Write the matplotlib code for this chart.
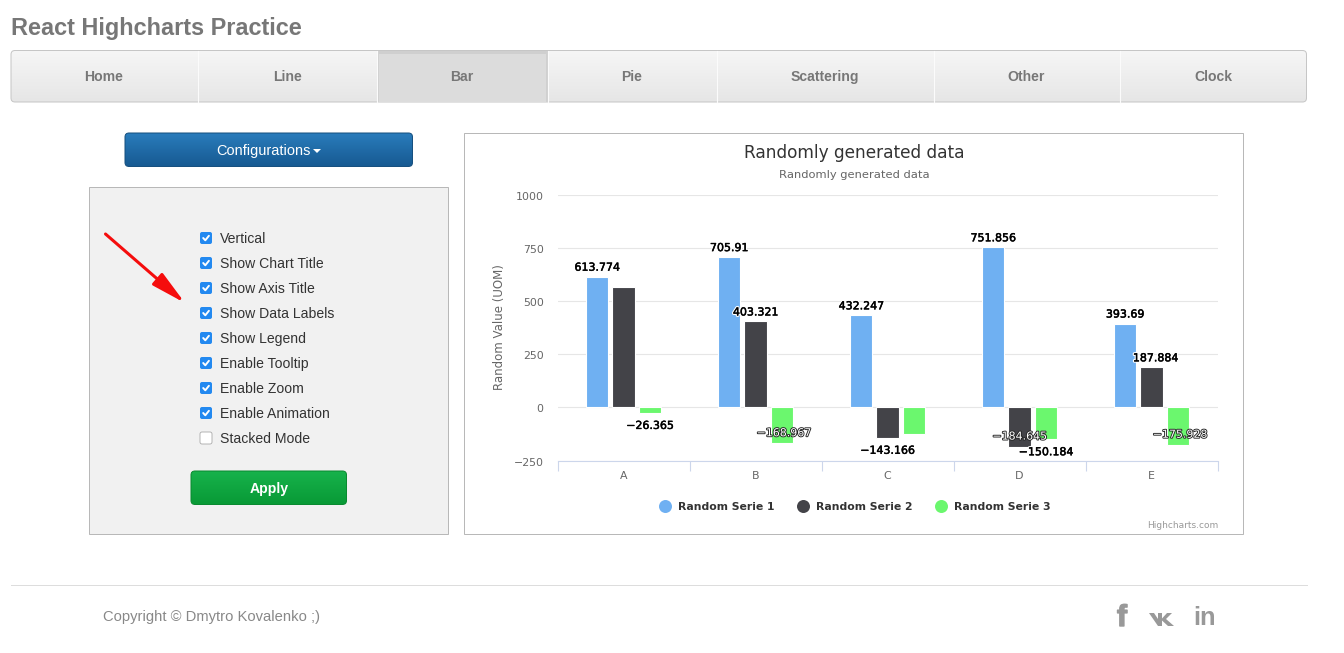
import matplotlib
matplotlib.use('Agg')
import matplotlib.pyplot as plt
import matplotlib.patches as patches
import matplotlib.patheffects as pe
from matplotlib.lines import Line2D
from matplotlib.transforms import ScaledTranslation
import numpy as np

W, H = 1344, 653
UI_FONT = 'Liberation Sans'
CHART_FONT = 'DejaVu Sans'

# chart data
categories = ['A', 'B', 'C', 'D', 'E']
serie_names = ['Random Serie 1', 'Random Serie 2', 'Random Serie 3']
serie1 = [613.774, 705.91, 432.247, 751.856, 393.69]
serie2 = [565, 403.321, -143.166, -184.645, 187.884]
serie3 = [-26.365, -168.967, -125, -150.184, -175.928]
y_ticks = [-250, 0, 250, 500, 750, 1000]

# page text
nav_labels = ['Home', 'Line', 'Bar', 'Pie', 'Scattering', 'Other', 'Clock']
option_labels = ['Vertical', 'Show Chart Title', 'Show Axis Title', 'Show Data Labels',
                 'Show Legend', 'Enable Tooltip', 'Enable Zoom', 'Enable Animation', 'Stacked Mode']
option_checked = [True, True, True, True, True, True, True, True, False]

colors = ['#6fb0f2', '#434348', '#6bf76e']


def px(size):
    return size * 0.72


fig = plt.figure(figsize=(W / 100, H / 100), dpi=100, facecolor='white')

# page chrome lives on one full-figure axes in pixel coordinates
bg = fig.add_axes([0, 0, 1, 1], zorder=0)
bg.set_xlim(0, W)
bg.set_ylim(H, 0)
bg.axis('off')


def gradient_box(x0, y0, x1, y1, top, bottom, edge, radius=4, lw=0.72, z=2):
    box = patches.FancyBboxPatch((x0 + radius, y0 + radius), x1 - x0 - 2 * radius, y1 - y0 - 2 * radius,
                                 boxstyle='round,pad=%d,rounding_size=%d' % (radius, radius),
                                 facecolor='none', edgecolor=edge, linewidth=lw, zorder=z + 0.1)
    bg.add_patch(box)
    c0 = np.array(matplotlib.colors.to_rgb(top))
    c1 = np.array(matplotlib.colors.to_rgb(bottom))
    t = np.linspace(0, 1, 64)[:, None, None]
    img = c0[None, None, :] * (1 - t) + c1[None, None, :] * t
    im = bg.imshow(img, extent=(x0, x1, y1, y0), aspect='auto', zorder=z, interpolation='bilinear')
    im.set_clip_path(box)


# header
bg.text(11, 28.5, 'React Highcharts Practice', family=UI_FONT, weight='bold', fontsize=px(23.5),
        color='#777777', va='center', ha='left')

# nav bar
nav_edges = [11, 198, 377, 548, 717, 934, 1120, 1307]
gradient_box(11, 50.5, 1306.5, 102, '#f6f6f6', '#e6e6e6', '#c6c6c6')
bg.add_patch(patches.Rectangle((376.5, 51), 171, 51, facecolor='#dcdcdc', edgecolor='none', zorder=3))
bg.add_patch(patches.Rectangle((376.5, 51), 171, 2.5, facecolor='#cfcfcf', edgecolor='none', zorder=3))
bg.add_patch(patches.Rectangle((376.5, 51), 2, 51, facecolor='#d0d0d0', edgecolor='none', zorder=3))
bg.add_patch(patches.Rectangle((545.5, 51), 2, 51, facecolor='#d0d0d0', edgecolor='none', zorder=3))
for i, name in enumerate(nav_labels):
    if i > 0:
        bg.plot([nav_edges[i] - 0.5] * 2, [51, 102], color='#fbfbfb', lw=0.8, zorder=4)
    bg.text((nav_edges[i] + nav_edges[i + 1]) / 2 - 0.5, 81, name, family=UI_FONT, weight='bold', fontsize=px(14),
            color='#777777', ha='center', va='baseline', zorder=5)

# configurations button
gradient_box(125, 133, 412.5, 166.5, '#2a7dbd', '#175a92', '#17507f')
bg.text(263, 151, 'Configurations', family=UI_FONT, fontsize=px(14.5), color='white',
        ha='center', va='center', zorder=5)
bg.add_patch(patches.Polygon([[313, 149], [321, 149], [317, 153]], facecolor='white', edgecolor='none', zorder=5))

# options panel
bg.add_patch(patches.Rectangle((89, 187), 359, 347, facecolor='#f1f1f1', edgecolor='#b8b8b8', lw=0.72, zorder=1))
for i, (name, on) in enumerate(zip(option_labels, option_checked)):
    cy = 238 + 25 * i
    bg.add_patch(patches.FancyBboxPatch((202, cy - 4), 8, 8, boxstyle='round,pad=2,rounding_size=2',
                                        facecolor='#2389f0' if on else 'white',
                                        edgecolor='none' if on else '#a8a8a8', lw=0.6, zorder=3))
    if on:
        bg.plot([203.2, 205.3, 208.9], [cy, cy + 2.3, cy - 2.2], color='white', lw=1.4, zorder=4,
                solid_capstyle='round')
    bg.text(220, cy + 1, name, family=UI_FONT, fontsize=px(14), color='#333333', ha='left', va='center', zorder=5)

# apply button
gradient_box(191, 471, 346.5, 504.5, '#17b34c', '#099a36', '#0a8a30')
bg.text(269, 489, 'Apply', family=UI_FONT, weight='bold', fontsize=px(14), color='white',
        ha='center', va='center', zorder=5)

# red arrow
bg.annotate('', xy=(185, 303), xytext=(105.5, 234), zorder=6,
            arrowprops=dict(arrowstyle='-|>,head_length=1.9,head_width=0.42', color='#f50d0d', lw=2.2,
                            shrinkA=0, shrinkB=0, mutation_scale=11))

# chart frame
bg.add_patch(patches.Rectangle((464, 133), 779, 401, facecolor='white', edgecolor='#b8b8b8', lw=0.72, zorder=1))
bg.text(854, 152.5, 'Randomly generated data', family=CHART_FONT, fontsize=px(17), color='#333333',
        ha='center', va='center', zorder=5)
bg.text(854, 174.5, 'Randomly generated data', family=CHART_FONT, fontsize=px(11.5), color='#666666',
        ha='center', va='center', zorder=5)
bg.text(1218, 525.5, 'Highcharts.com', family=CHART_FONT, fontsize=px(9), color='#999999',
        ha='right', va='center', zorder=5)

# footer
bg.plot([11, 1307], [585, 585], color='#dddddd', lw=0.72, zorder=1)
bg.text(103, 617, 'Copyright © Dmytro Kovalenko ;)', family=UI_FONT, fontsize=px(14.7), color='#888888',
        ha='left', va='center', zorder=5)
f_icon = bg.text(1122, 618, 'f', family=UI_FONT, weight='bold', fontsize=px(30), color='#999999',
                 ha='center', va='center')
f_icon.set_path_effects([pe.withStroke(linewidth=1, foreground='#999999')])
bg.add_patch(patches.Polygon([[1149, 613], [1154, 613], [1158, 619], [1158, 613], [1162, 613], [1162, 618.5],
                              [1167, 613], [1172, 613], [1166, 619], [1174, 626], [1168, 626], [1162, 620.5],
                              [1162, 626], [1158, 626]], facecolor='#999999', edgecolor='none', zorder=5))
bg.text(1205, 618, 'in', family=UI_FONT, weight='bold', fontsize=px(25.5), color='#999999', ha='center', va='center')

bg.set_xlim(0, W)
bg.set_ylim(H, 0)

# bar chart plot area, 558..1218 x 194.5..460.5 px
ax = fig.add_axes([557.5 / W, 1 - 460.5 / H, 660 / W, 266 / H], zorder=2)
ax.patch.set_alpha(0)
x = np.arange(len(categories))
width = 0.168
offsets = [-0.2, 0, 0.2]
all_series = [serie1, serie2, serie3]
for k, vals in enumerate(all_series):
    ax.bar(x + offsets[k], vals, width, color=colors[k], edgecolor='white', linewidth=0.8, zorder=3)

ax.set_xlim(-0.5, len(categories) - 0.5)
ax.set_ylim(-250, 1000)
ax.set_yticks(y_ticks)
ax.grid(axis='y', color='#e6e6e6', lw=0.8, zorder=0)
ax.set_axisbelow(True)
for s in ['top', 'left', 'right']:
    ax.spines[s].set_visible(False)
ax.spines['bottom'].set_color('#ccd6eb')
ax.tick_params(axis='y', length=0, pad=10, labelsize=px(11), labelcolor='#666666')
ax.set_xticks(x)
ax.set_xticklabels(categories)
ax.set_xticks(np.arange(len(categories) + 1) - 0.5, minor=True)
ax.tick_params(axis='x', which='major', length=0, pad=7.5, labelsize=px(11), labelcolor='#666666')
ax.tick_params(axis='x', which='minor', length=7.2, width=0.8, color='#ccd6eb')
for lab in ax.get_yticklabels():
    lab.set_transform(lab.get_transform() + ScaledTranslation(0, -1 / 100, fig.dpi_scale_trans))
ax.set_ylabel('Random Value (UOM)', fontsize=px(11.8), color='#666666', labelpad=0)
ax.yaxis.set_label_coords((507 - 558) / 660, (460.5 - 327) / 266)

# data labels; highcharts dropped the two that collided and pushed three back inside the plot
hidden = {(1, 0), (2, 2)}
pushed = {(2, 1), (1, 3), (2, 4)}
for k, vals in enumerate(all_series):
    for i, v in enumerate(vals):
        if (k, i) in hidden:
            continue
        txt = str(v).replace('-', '\u2212')
        dy = 9 if v > 0 else -13
        dx = 0
        if (k, i) in pushed:
            dy = 10
            dx = 2
        if (k, i) == (1, 3):
            dx = 0
        if k == 1 and i == 4:
            dx = 4
        t = ax.annotate(txt, (x[i] + offsets[k], v), xytext=(px(dx), px(dy)), textcoords='offset points',
                        ha='center', va='center', family=CHART_FONT, fontsize=px(11),
                        color='white' if (k, i) in pushed else 'black', zorder=6, annotation_clip=False)
        if (k, i) in pushed:
            t.set_path_effects([pe.withStroke(linewidth=1.3, foreground='#222222')])
        else:
            t.set_path_effects([pe.Stroke(linewidth=2, foreground='white'),
                                pe.Stroke(linewidth=0.35, foreground='black'), pe.Normal()])

handles = [Line2D([], [], ls='none', marker='o', ms=px(13), mfc=c, mec='none') for c in colors]
leg = ax.legend(handles, serie_names, ncol=3, frameon=False, loc='center', bbox_to_anchor=(855.5 / W, 1 - 506.5 / H),
                bbox_transform=fig.transFigure, prop={'family': CHART_FONT, 'weight': 'bold', 'size': px(10.9)},
                labelcolor='#333333', handletextpad=0.7, columnspacing=2.1, handlelength=1.0, borderpad=0)

fig.savefig('out.png', dpi=100)
